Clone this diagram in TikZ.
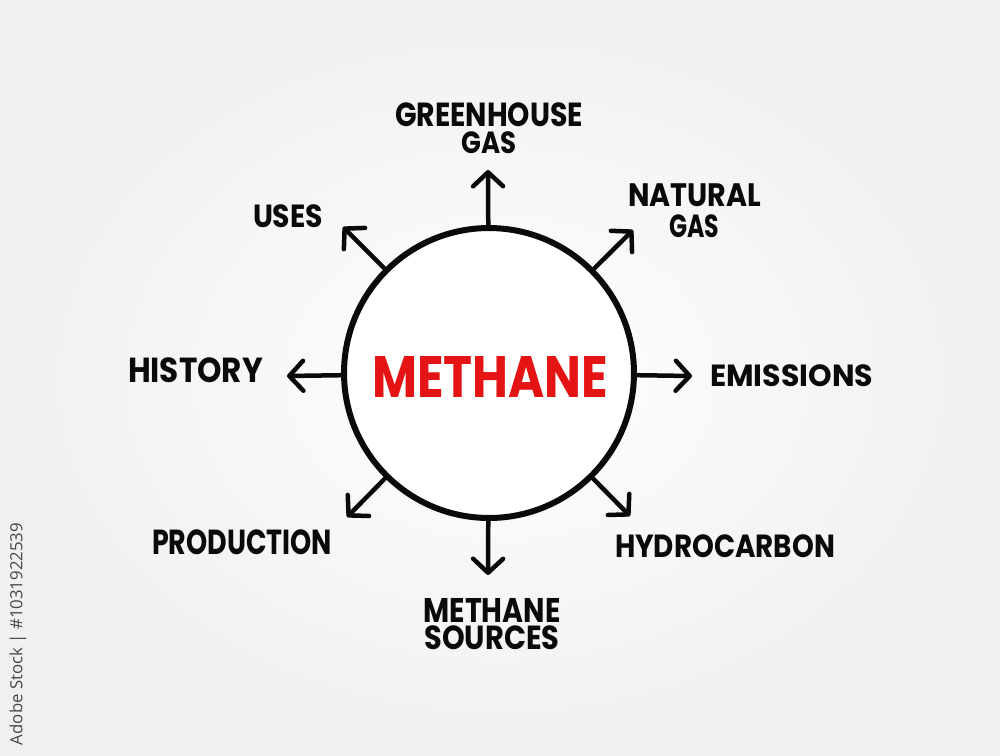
\documentclass[tikz,border=0pt]{standalone}
\usepackage{fontspec}
\setmainfont{Poppins}
\newfontfamily\wmfont{Open Sans}
\usepackage{graphicx}
\usetikzlibrary{arrows.meta}
\newlength\pu
\setlength\pu{0.02cm}
\newcommand\lab[3]{\resizebox*{#1\pu}{#2\pu}{\bfseries #3}}
\newcommand\twoline[3]{\vbox{\offinterlineskip\halign{\hfil##\hfil\cr #1\cr\noalign{\kern#3\pu}#2\cr}}}
\definecolor{methred}{RGB}{228,20,20}
\definecolor{inkc}{RGB}{10,10,10}
\tikzset{
  lbl/.style={inner sep=0pt, outer sep=0pt, anchor=north west, text=inkc},
  lbl2/.style={inner sep=0pt, outer sep=0pt, anchor=north, text=inkc},
  ray/.style={draw=inkc, line width=0.09cm, line cap=round,
    -{Straight Barb[length=0.28cm, width=0.6cm, round]}},
  hub/.style={draw=inkc, circle, line width=0.12cm, minimum size=5.8cm, inner sep=0pt, fill=white}
}
\begin{document}
\begin{tikzpicture}[x=0.02cm, y=-0.02cm]
\useasboundingbox (0,0) rectangle (1000,755);
\shade[inner color=white, outer color=black!6] (0,0) rectangle (1000,755);
% hub
\node[hub] (c) at (489,373) {};
\node[inner sep=0pt, text=methred] (m) at (490,377) {\lab{236}{41}{METHANE}};
% arrow tips
\coordinate (tN) at (488,170);
\coordinate (tNE) at (633,230);
\coordinate (tE) at (692,376);
\coordinate (tSE) at (630,516);
\coordinate (tS) at (488,575);
\coordinate (tSW) at (347,517);
\coordinate (tW) at (287,376);
\coordinate (tNW) at (343,227);
\foreach \t in {tN,tNE,tE,tSE,tS,tSW,tW,tNW}
  \draw[ray] (c) -- (\t);
% labels
\node[lbl2] (gh) at (489,103) {\twoline{\lab{188}{24}{GREENHOUSE}}{\lab{55}{22}{GAS}}{5}};
\node[lbl2] (ng) at (694.5,184) {\twoline{\lab{133}{23}{NATURAL}}{\lab{50}{23}{GAS}}{8}};
\node[lbl] (us) at (253,205) {\lab{70}{23}{USES}};
\node[lbl] (hi) at (128,358) {\lab{135}{25}{HISTORY}};
\node[lbl] (em) at (710,365) {\lab{163}{22}{EMISSIONS}};
\node[lbl] (pr) at (152,530) {\lab{180}{25}{PRODUCTION}};
\node[lbl] (hy) at (615,535) {\lab{220}{23}{HYDROCARBON}};
\node[lbl2] (ms) at (492,598) {\twoline{\lab{137}{24}{METHANE}}{\lab{135}{24}{SOURCES}}{4}};
% vertical credit
\node[inner sep=0pt, rotate=90, text=black!72] (wm) at (18,634)
  {\resizebox{222\pu}{!}{\wmfont Adobe Stock | \#1031922539}};
\end{tikzpicture}
\end{document}
